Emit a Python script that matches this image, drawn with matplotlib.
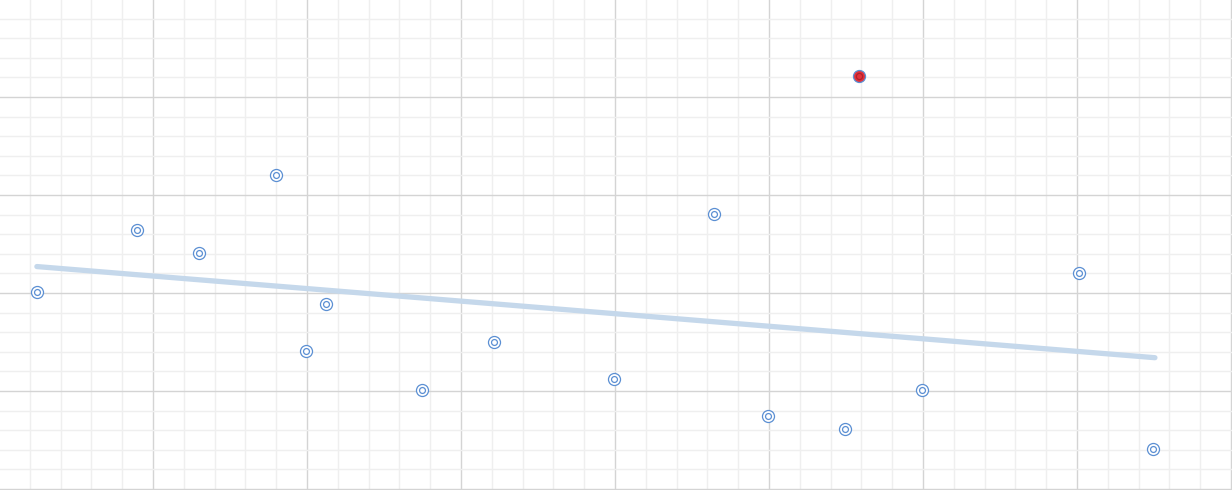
import numpy as np
import matplotlib
matplotlib.use('Agg')
import matplotlib.pyplot as plt
from matplotlib.ticker import MultipleLocator

# Data
x_vals = [0.246, 0.896, 1.296, 1.796, 1.996, 2.126, 2.746, 3.216, 3.996,
          4.646, 4.996, 5.496, 5.996, 7.016, 7.496]
y_vals = [2.01, 2.64, 2.41, 3.20, 1.41, 1.89, 1.01, 1.50, 1.12,
          2.81, 0.75, 0.61, 1.01, 2.20, 0.41]

# Highlighted point
x_hi = [5.586]
y_hi = [4.21]

# Trend line end points
trend_x = [0.246, 7.506]
trend_y = [2.27, 1.34]

blue = '#5b8fd3'

fig = plt.figure(figsize=(12.32, 4.9), dpi=100)
ax = fig.add_axes([0, 0, 1, 1])

ax.plot(trend_x, trend_y, color='#c5d8eb', linewidth=3.8,
        solid_capstyle='round', zorder=2)

# Double-ring markers
ax.scatter(x_vals, y_vals, s=75, facecolor='white', edgecolor=blue,
           linewidth=0.9, zorder=3)
ax.scatter(x_vals, y_vals, s=18, facecolor='white', edgecolor=blue,
           linewidth=0.9, zorder=4)

ax.scatter(x_hi, y_hi, s=75, facecolor='#e2313b', edgecolor=blue,
           linewidth=0.9, zorder=3)
ax.scatter(x_hi, y_hi, s=20, facecolor='#e2313b', edgecolor='#b3202a',
           linewidth=0.9, zorder=4)

ax.set_xlim(0.0065, 8.0065)
ax.set_ylim(-0.01, 4.99)

ax.xaxis.set_major_locator(MultipleLocator(1))
ax.xaxis.set_minor_locator(MultipleLocator(0.2))
ax.yaxis.set_major_locator(MultipleLocator(1))
ax.yaxis.set_minor_locator(MultipleLocator(0.2))

ax.grid(which='major', color='#d4d4d4', linewidth=1.0)
ax.grid(which='minor', color='#efefef', linewidth=1.0)
ax.set_axisbelow(True)

ax.tick_params(which='both', length=0, labelbottom=False, labelleft=False)
for s in ax.spines.values():
    s.set_visible(False)

plt.savefig('out.png', dpi=100)
